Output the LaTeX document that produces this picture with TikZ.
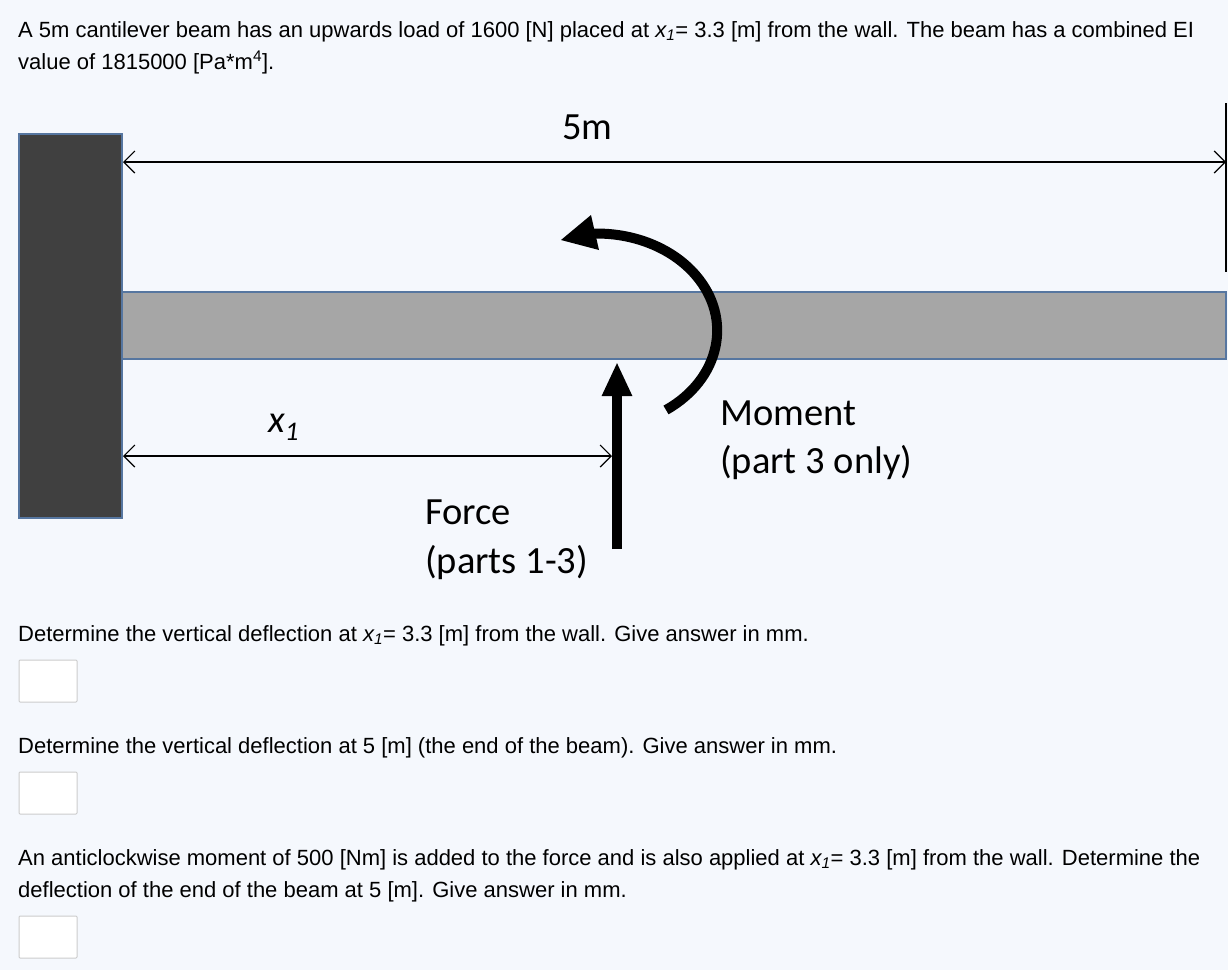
\documentclass[tikz,border=0pt]{standalone}
\usepackage{fontspec}
\setmainfont{Liberation Sans}
\newfontfamily\calfnt{Carlito}
\usetikzlibrary{arrows.meta}
\definecolor{bg}{HTML}{F5F8FD}
\definecolor{edge}{HTML}{5676A0}
\definecolor{wallc}{HTML}{404040}
\definecolor{beamc}{HTML}{A6A6A6}
\tikzset{
  body/.style={anchor=base west, inner sep=0pt, font=\fontsize{22}{26}\selectfont},
  lab/.style={anchor=base west, inner sep=0pt, font=\calfnt\fontsize{38.5}{44}\selectfont},
  dim/.style={line width=1.2pt, {Straight Barb[length=11pt,width=22pt]}-{Straight Barb[length=11pt,width=22pt]}},
  inbox/.style={draw=gray!40, fill=white, line width=1pt, rounded corners=1pt}
}
\begin{document}
\begin{tikzpicture}[x=1pt,y=-1pt]
\fill[bg] (0,0) rectangle (1228,970);
\useasboundingbox (0,0) rectangle (1228,970);
\node[body] (t1) at (18,37) {A 5m cantilever beam has an upwards load of 1600 [N] placed at \textit{x\textsubscript{1}}= 3.3 [m] from the wall. The beam has a combined EI};
\node[body] (t2) at (18,69) {value of 1815000 [Pa*m\textsuperscript{4}].};
\filldraw[fill=wallc, draw=edge, line width=2pt] (19,134) rectangle (122,518);
\filldraw[fill=beamc, draw=edge, line width=2pt] (122,292) rectangle (1226,359);
\coordinate (wt) at (123,162); \coordinate (et) at (1226,162);
\draw[dim] (wt) -- (et);
\draw[line width=2pt] (1226,103) -- (1226,272);
\node[lab] (l5) at (562,139) {5m};
\coordinate (wb) at (123,456); \coordinate (fb) at (612,456);
\draw[dim] (wb) -- (fb);
\node[lab] (lx) at (268,432) {\textit{x\textsubscript{1}}};
\coordinate (fs) at (617,549); \coordinate (fe) at (617,362);
\draw[line width=10pt, -{Triangle[length=34pt,width=28pt]}] (fs) -- (fe);
\draw[line width=10pt] (666,410) arc[start angle=55, end angle=-95, x radius=120, y radius=97];
\fill (561,240) -- (591,215) -- (599,250) -- cycle;
\node[lab] (m1) at (720,425) {Moment};
\node[lab] (m2) at (720,473) {(part 3 only)};
\node[lab] (f1) at (425,524) {Force};
\node[lab] (f2) at (425,573) {(parts 1-3)};
\node[body] (q1) at (18,641) {Determine the vertical deflection at \textit{x\textsubscript{1}}= 3.3 [m] from the wall. Give answer in mm.};
\node[body] (q2) at (18,753) {Determine the vertical deflection at 5 [m] (the end of the beam). Give answer in mm.};
\node[body] (q3) at (18,865) {An anticlockwise moment of 500 [Nm] is added to the force and is also applied at \textit{x\textsubscript{1}}= 3.3 [m] from the wall. Determine the};
\node[body] (q4) at (18,897) {deflection of the end of the beam at 5 [m]. Give answer in mm.};
\draw[inbox] (19,660) rectangle (77,702);
\draw[inbox] (19,772) rectangle (77,814);
\draw[inbox] (19,916) rectangle (77,958);
\end{tikzpicture}
\end{document}
